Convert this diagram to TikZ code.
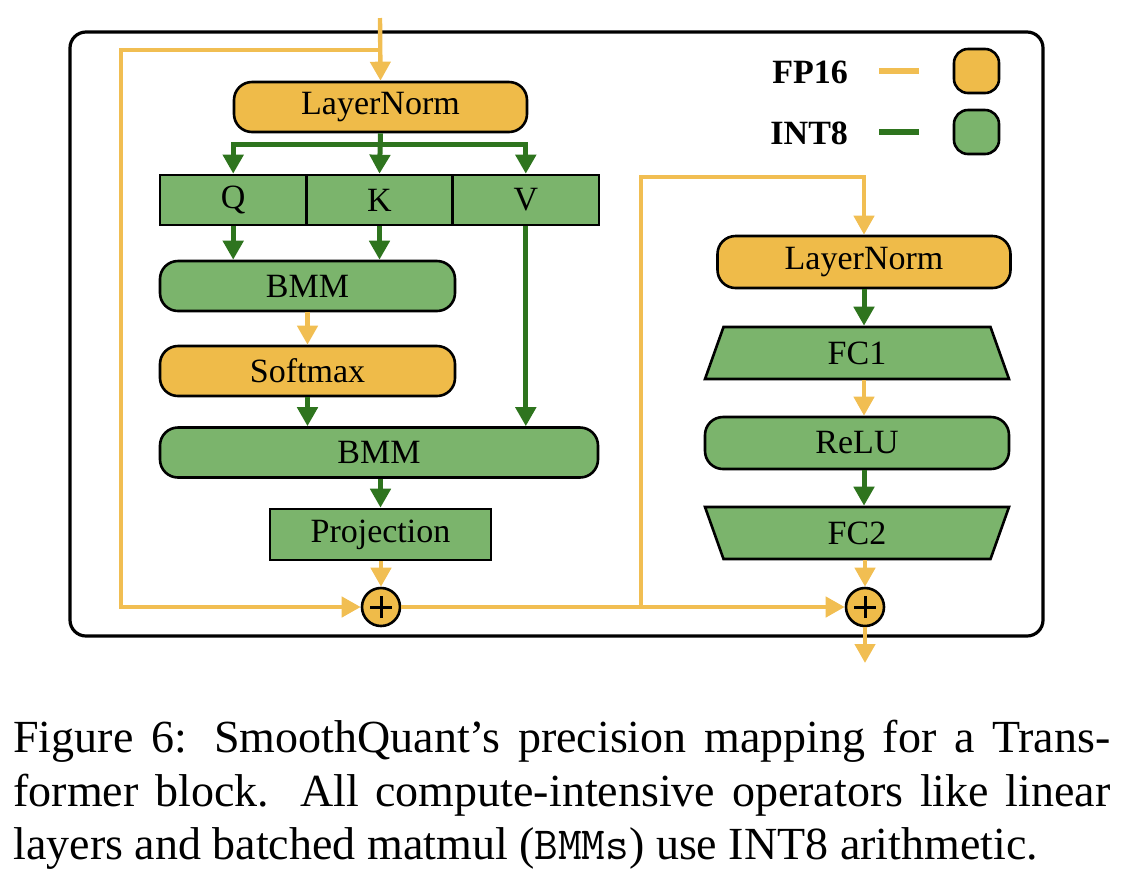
\documentclass[tikz,border=0pt]{standalone}
\usepackage{fontspec}
\setmainfont{Liberation Serif}
\usepackage{xcolor}
\usepackage{tikz}
\usetikzlibrary{shapes.geometric}
\usetikzlibrary{arrows.meta}
\usetikzlibrary{calc}

\definecolor{fpfill}{RGB}{239,187,73}
\definecolor{fpline}{RGB}{241,190,82}
\definecolor{intfill}{RGB}{123,180,108}
\definecolor{intline}{RGB}{46,116,30}

\begin{document}
\begin{tikzpicture}[x=0.5pt,y=-0.5pt]%%precision map
                \tikzstyle{op}   = [draw, line width=1.3pt, inner sep=0pt, minimum height=25pt, font=\fontsize{17}{20}\selectfont]
                \tikzstyle{fpop} = [op, fill=fpfill, rounded corners=9pt]
                \tikzstyle{intop} = [op, fill=intfill, rounded corners=9pt]
                \tikzstyle{linop} = [op, fill=intfill]
                \tikzstyle{fcop} = [op, fill=intfill, trapezium, trapezium stretches body, minimum width=152pt, minimum height=26pt]
                \tikzstyle{addop} = [circle, draw, line width=1.3pt, fill=fpfill, minimum size=19pt, inner sep=0pt,
                        path picture={\draw[line width=1.5pt] (path picture bounding box.center) +(-5.5pt,0) -- +(5.5pt,0) +(0,-5.5pt) -- +(0,5.5pt);}]
                \tikzstyle{fparrow} = [draw=fpline, line width=2.2pt, -{Triangle[width=10pt,length=9.5pt]}]
                \tikzstyle{intarrow} = [draw=intline, line width=2.5pt, -{Triangle[width=10pt,length=9.5pt]}]
                \useasboundingbox (0,0) rectangle (1134,890);
                \draw[line width=1.6pt, rounded corners=8pt] (70,32) rectangle (1043,636);
                % legend
                \node[anchor=east, font=\bfseries\fontsize{17}{20}\selectfont] (fp16) at (855,72) {FP16};
                \node[anchor=east, font=\bfseries\fontsize{17}{20}\selectfont] (int8) at (855,133) {INT8};
                \node[fpop, minimum width=22.5pt, minimum height=22pt, rounded corners=7pt] (fpkey) at (976.5,71) {};
                \node[intop, minimum width=22.5pt, minimum height=22pt, rounded corners=7pt] (intkey) at (976.5,132) {};
                \draw[fpline, line width=3pt] (879,71) -- (919,71);
                \draw[intline, line width=3pt] (879,132) -- (919,132);
                % attention
                \node[fpop, minimum width=146.5pt] (ln1) at (380.5,107) {LayerNorm};
                \foreach \n/\t [count=\i] in {q/Q,k/K,v/V}
                {
                        \node[linop, minimum width=73.15pt] (\n) at ({233.2+146.3*(\i-1)},200) {\t};
                }
                \node[intop, minimum width=147.5pt] (bmm1) at (307.5,286) {BMM};
                \node[fpop, minimum width=147.5pt] (soft) at (307.5,371) {Softmax};
                \node[intop, minimum width=219pt] (bmm2) at (379,452.5) {BMM};
                \node[linop, minimum width=110.5pt, minimum height=25.5pt] (proj) at (380.5,534.5) {Projection};
                \node[addop] (add1) at (381,607) {};
                % mlp
                \node[fpop, minimum width=146.5pt, minimum height=26pt] (ln2) at (864,262) {LayerNorm};
                \node[fcop, trapezium left angle=51, trapezium right angle=51] (fc1) at (857,353) {FC1};
                \node[intop, minimum width=152pt, minimum height=26pt] (relu) at (857,443) {ReLU};
                \node[fcop, trapezium left angle=129, trapezium right angle=129] (fc2) at (857,533) {FC2};
                \node[addop] (add2) at (865,607) {};
                % connectors
                \coordinate (in) at (380,18);
                \coordinate (s1) at (121,50);
                \coordinate (s2) at (641,177);
                \coordinate (out) at (865,663);
                \draw[fparrow] (in) -- (ln1.north);
                \draw[fparrow] (in |- s1) -- (s1) |- (add1.west);
                \draw[intarrow] (ln1.south) -- (k.north);
                \draw[intarrow] ($(ln1.south)+(0,11)$) -| (q.north);
                \draw[intarrow] ($(ln1.south)+(0,11)$) -| (v.north);
                \draw[intarrow] (q.south) -- (q.south |- bmm1.north);
                \draw[intarrow] (k.south) -- (k.south |- bmm1.north);
                \draw[fparrow] (bmm1.south) -- (soft.north);
                \draw[intarrow] (soft.south) -- (soft.south |- bmm2.north);
                \draw[intarrow] (v.south) -- (v.south |- bmm2.north);
                \draw[intarrow] (proj.north |- bmm2.south) -- (proj.north);
                \draw[fparrow] (proj.south -| add1) -- (add1.north);
                \draw[fparrow] (add1.east) -- (add2.west);
                \draw[fparrow] (s2 |- add1) -- (s2) -| (ln2.north);
                \draw[intarrow] (ln2.south) -- (ln2.south |- fc1.north);
                \draw[fparrow] (ln2.south |- fc1.south) -- (ln2.south |- relu.north);
                \draw[intarrow] (ln2.south |- relu.south) -- (ln2.south |- fc2.north);
                \draw[fparrow] (add2.north |- fc2.south) -- (add2.north);
                \draw[fparrow] (add2.south) -- (out);
                % caption
                \node[anchor=north west, text width=548.5pt, inner sep=0pt, align=justify, font=\fontsize{23}{26.7}\selectfont] (cap) at (13,720)
                        {Figure 6: SmoothQuant's precision mapping for a Trans-\linebreak former block. All compute-intensive operators like linear\linebreak layers and batched matmul (\texttt{BMMs}) use INT8 arithmetic.};
\end{tikzpicture}
\end{document}
